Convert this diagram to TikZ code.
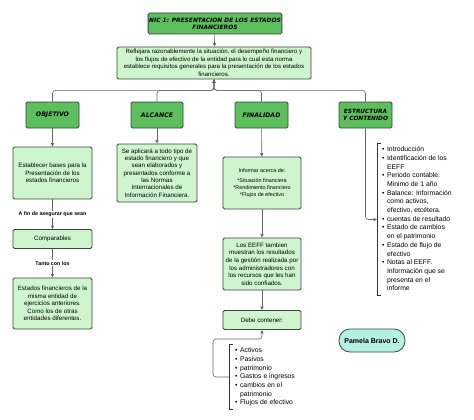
\documentclass[tikz,border=0pt]{standalone}
\usepackage{fontspec}
\setmainfont{Liberation Sans}
\newfontfamily\titlefont{DejaVu Sans}
\usetikzlibrary{arrows.meta,calc}
\definecolor{darkg}{RGB}{92,190,92}
\definecolor{lightg}{RGB}{206,245,206}
\definecolor{bordc}{RGB}{60,70,60}
\definecolor{linec}{RGB}{100,100,100}
\definecolor{pamc}{RGB}{180,240,228}
\tikzset{
  base/.style={draw=bordc, line width=0.8pt, rounded corners=1.5pt, inner sep=1pt, align=center, text=black},
  dbox/.style={base, fill=darkg, font=\titlefont\bfseries\itshape\fontsize{6.2}{7}\selectfont},
  lbox/.style={base, fill=lightg, font=\fontsize{6.2}{7.6}\selectfont},
  conn/.style={draw=linec, line width=0.6pt},
  arr/.style={conn, -{Triangle[length=3.5pt,width=3pt]}},
  lbl/.style={fill=white, inner sep=1pt, font=\bfseries\fontsize{5.3}{6}\selectfont},
  listtxt/.style={inner xsep=0pt, inner ysep=2pt, align=left, font=\fontsize{6.8}{8.7}\selectfont},
  brk/.style={draw=black!80, line width=0.6pt}
}
\begin{document}
\begin{tikzpicture}[x=1pt,y=-1pt]
\useasboundingbox[fill=white] (0,0) rectangle (474,420);
% top
\node[dbox, minimum width=131pt, minimum height=21pt, font=\titlefont\bfseries\itshape\fontsize{5.9}{6.8}\selectfont] (title) at (215,23.5) {NIC 1: PRESENTACION DE LOS ESTADOS\\FINANCIEROS};
\node[lbox, minimum width=194pt, minimum height=32pt, font=\fontsize{6.1}{7.5}\selectfont] (main) at (214,63) {Reflejara razonablemente la situación, el desempeño financiero y\\los flujos de efectivo de la entidad para lo cual esta norma\\establece requisitos generales para la presentación de los estados\\financieros.};
% headings
\node[dbox, minimum width=53pt, minimum height=26pt] (obj) at (52.5,115) {OBJETIVO};
\node[dbox, minimum width=52pt, minimum height=26pt] (alc) at (157,115) {ALCANCE};
\node[dbox, minimum width=53pt, minimum height=26pt] (fin) at (261.5,115) {FINALIDAD};
\node[dbox, minimum width=53pt, minimum height=26pt, font=\titlefont\bfseries\itshape\fontsize{5.8}{6.8}\selectfont] (est) at (365.5,115) {ESTRUCTURA\\Y CONTENIDO};
% column 1
\node[lbox, minimum width=79pt, minimum height=52pt] (estab) at (52.5,173) {Establecer bases para la\\Presentación de los\\estados financieros};
\node[lbox, minimum width=79pt, minimum height=19pt] (comp) at (52.5,239) {Comparables};
\node[lbox, minimum width=79pt, minimum height=51pt] (estfin) at (52.5,303.5) {Estados financieros de la\\misma entidad de\\ejercicios anteriores.\\Como los de otras\\entidades diferentes.};
% column 2
\node[lbox, minimum width=80pt, minimum height=58pt, font=\fontsize{6.2}{7.3}\selectfont] (alct) at (157,173) {Se aplicará a todo tipo de\\estado financiero y que\\sean elaborados y\\presentados conforme a\\las Normas\\Internacionales de\\Información Financiera.};
% column 3
\node[lbox, minimum width=78pt, minimum height=52pt, font=\fontsize{5.4}{7}\selectfont] (inf) at (262,183) {Informar acerca de:\\[3pt]*Situación financiera\\*Rendimiento financiero\\*Flujos de efectivo};
\node[lbox, minimum width=78pt, minimum height=52pt] (eeff) at (262,264) {Los EEFF tambien\\muestran los resultados\\de la gestión realizada por\\los administradores con\\los recursos que les han\\sido confiados.};
\node[lbox, minimum width=78pt, minimum height=19pt] (debe) at (262,320) {Debe contener:};
% lists
\node[listtxt, anchor=west] (l1) at (382,219.5) {\begin{tabular}{@{}l@{\hspace{2.5pt}}l@{}}
•&Introducción\\
•&Identificación de los\\
&EEFF\\
•&Periodo contable:\\
&Minimo de 1 año\\
•&Balance: Información\\
&como activos,\\
&efectivo, etcétera.\\
•&cuentas de resultado\\
•&Estado de cambios\\
&en el patrimonio\\
•&Estado de flujo de\\
&efectivo\\
•&Notas al EEFF.\\
&Información que se\\
&presenta en el\\
&informe
\end{tabular}};
\coordinate (b1) at (377,219.5);
\draw[brk] ($(l1.north west -| b1)+(4,0)$) -- (l1.north west -| b1) -- (l1.south west -| b1) -- ($(l1.south west -| b1)+(4,0)$);
\node[listtxt, anchor=west] (l2) at (235,377) {\begin{tabular}{@{}l@{\hspace{2.5pt}}l@{}}
•&Activos\\
•&Pasivos\\
•&patrimonio\\
•&Gastos e ingresos\\
•&cambios en el\\
&patrimonio\\
•&Flujos de efectivo
\end{tabular}};
\coordinate (b2) at (229,377);
\draw[brk] ($(l2.north west -| b2)+(4,0)$) -- (l2.north west -| b2) -- (l2.south west -| b2) -- ($(l2.south west -| b2)+(4,0)$);
% author
\node[base, fill=pamc, rounded corners=11pt, minimum width=66pt, minimum height=23pt, font=\bfseries\fontsize{7}{8}\selectfont] (pam) at (372,340.5) {Pamela Bravo D.};
% connectors
\draw[arr] (title) -- (main);
\foreach \c in {obj,alc,fin,est}
  \draw[arr, rounded corners=3pt] (\c.north) |- ($(main.south)+(0,11)$) -- (main.south);
\draw[arr] (obj) -- (estab);
\draw[arr] (alc) -- (alct);
\draw[arr] (fin) -- (inf);
\draw[arr, rounded corners=3pt] (est.south) |- (b1);
\draw[arr] (estab) -- node[lbl] {A fin de asegurar que sean} (comp);
\draw[arr] (comp) -- node[lbl] {Tanto con los} (estfin);
\draw[arr] (inf) -- (eeff);
\draw[arr] (eeff) -- (debe);
\draw[arr, rounded corners=3pt] (b2) -- (213,377) -- (213,339) -- (262,339) -- (debe.south);
\end{tikzpicture}
\end{document}
